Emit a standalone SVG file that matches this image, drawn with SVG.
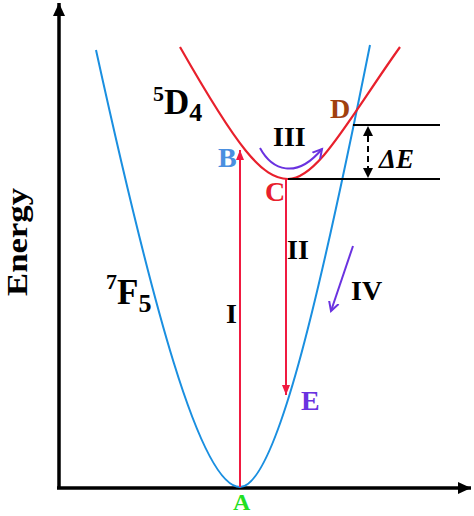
<svg xmlns="http://www.w3.org/2000/svg" width="474" height="516" viewBox="0 0 474 516">
<defs>
<style>
.lbl{font-family:"Liberation Serif","Times New Roman",serif;font-weight:bold;}
.axis{stroke:#000;stroke-width:3.5;fill:none;}
.blue{stroke:#1a8fe0;stroke-width:2;fill:none;}
.redc{stroke:#e8202c;stroke-width:2.2;fill:none;}
.reda{stroke:#f01a40;stroke-width:2;fill:none;}
.purp{stroke:#6a32e0;stroke-width:2;fill:none;}
.blk{stroke:#000;stroke-width:2;fill:none;}
</style>
<marker id="ahBlack" markerUnits="userSpaceOnUse" markerWidth="14" markerHeight="14" refX="13" refY="7" orient="auto"><path d="M0,1 L13,7 L0,13 Z" fill="#000"/></marker>
<marker id="ahRed" markerUnits="userSpaceOnUse" markerWidth="12" markerHeight="10" refX="10" refY="5" orient="auto"><path d="M0,1 L10,5 L0,9 Z" fill="#f01a40"/></marker>
<marker id="ahPurp" markerUnits="userSpaceOnUse" markerWidth="12" markerHeight="12" refX="9" refY="6" orient="auto"><path d="M0,1 L9,6 L0,11" fill="none" stroke="#6a32e0" stroke-width="2"/></marker>
</defs>

<g id="axes">
<line class="axis" x1="59" y1="488" x2="59" y2="3" marker-end="url(#ahBlack)"/>
<line class="axis" x1="57" y1="488" x2="471" y2="488" marker-end="url(#ahBlack)"/>
<text class="lbl" font-size="30" textLength="108" lengthAdjust="spacingAndGlyphs" transform="translate(27,296) rotate(-90)">Energy</text>
</g>

<g id="curve-7F5">
<path class="blue" d="M96,50 C151,300 200,487 240,487 C275,487 318,305 370,45"/>
<text class="lbl" x="106" y="304" font-size="35"><tspan font-size="22" dy="-15">7</tspan><tspan dy="15">F</tspan><tspan font-size="26" dy="8">5</tspan></text>
</g>

<g id="curve-5D4">
<path class="redc" d="M180,47 C237,147 262,179 288,179 C318,179 350,117 400,47"/>
<text class="lbl" x="153" y="114" font-size="35"><tspan font-size="22" dy="-13">5</tspan><tspan dy="13">D</tspan><tspan font-size="26" dy="7">4</tspan></text>
</g>

<g id="deltaE">
<line class="blk" x1="353" y1="125" x2="440" y2="125"/>
<line class="blk" x1="288" y1="179" x2="440" y2="179"/>
<line stroke="#000" stroke-width="2" stroke-dasharray="6,4" x1="368" y1="136" x2="368" y2="168"/>
<path d="M368,126 L363,136 L373,136 Z" fill="#000"/>
<path d="M368,178 L363,168 L373,168 Z" fill="#000"/>
<text class="lbl" x="379" y="168" font-size="27" font-style="italic">ΔE</text>
</g>

<g id="connectors">
<line class="reda" x1="240" y1="487" x2="240" y2="150" marker-end="url(#ahRed)"/>
<line class="reda" x1="286" y1="179" x2="286" y2="395" marker-end="url(#ahRed)"/>
<path class="purp" d="M260,148 C272,170 296,180 322,149" marker-end="url(#ahPurp)"/>
<line class="purp" x1="353" y1="246" x2="331" y2="311" marker-end="url(#ahPurp)"/>
</g>

<g id="labels">
<text class="lbl" x="218" y="167" font-size="28" fill="#4a8fe0">B</text>
<text class="lbl" x="265" y="201" font-size="28" fill="#e8202c">C</text>
<text class="lbl" x="330" y="118" font-size="28" fill="#a0400f">D</text>
<text class="lbl" x="301" y="410" font-size="28" fill="#6a32e0">E</text>
<text class="lbl" x="233" y="510" font-size="24" fill="#22e022">A</text>
<text class="lbl" x="226" y="323" font-size="28">I</text>
<text class="lbl" x="287" y="259" font-size="28">II</text>
<text class="lbl" x="273" y="146" font-size="28">III</text>
<text class="lbl" x="351" y="300" font-size="28">IV</text>
</g>
</svg>
